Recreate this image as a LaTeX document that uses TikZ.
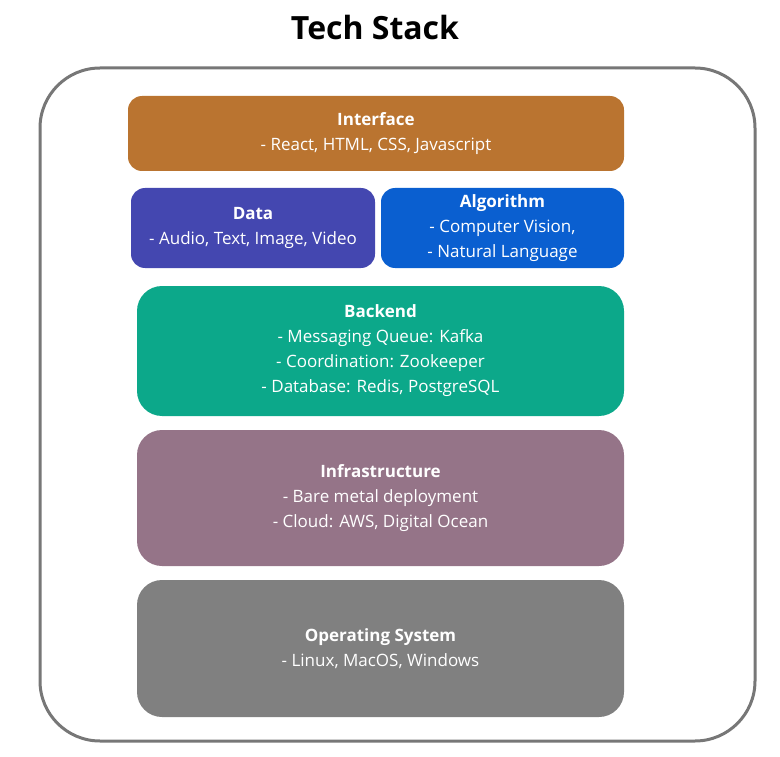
\documentclass[tikz,border=0pt]{standalone}
\usepackage{fontspec}
\setmainfont{Open Sans}
\usetikzlibrary{positioning}
\definecolor{interfacecol}{HTML}{BA7430}
\definecolor{datacol}{HTML}{4447B0}
\definecolor{algocol}{HTML}{0A5FD0}
\definecolor{backendcol}{HTML}{0CA88A}
\definecolor{infracol}{HTML}{957488}
\definecolor{oscol}{HTML}{808080}
\definecolor{framecol}{HTML}{777777}
\tikzset{
  layer/.style={draw=none, rounded corners=#1, text=white, align=center,
    inner sep=0pt, font=\fontsize{17}{25}\selectfont},
  layer/.default=14pt
}
\begin{document}
\begin{tikzpicture}[x=1pt,y=-1pt]
\useasboundingbox (0,0) rectangle (780,757);

\node[font=\bfseries\fontsize{32}{36}\selectfont] (title) at (375,28) {Tech Stack};
\draw[framecol, line width=3pt, rounded corners=60pt] (40,68) rectangle (755,741);

\node[layer, fill=interfacecol, minimum width=496pt, minimum height=75pt] (interface) at (376,133.5)
  {\textbf{Interface}\\- React, HTML, CSS, Javascript};
\node[layer, fill=datacol, minimum width=244pt, minimum height=80pt] (data) at (253,228)
  {\textbf{Data}\\- Audio, Text, Image, Video};
\node[layer, fill=algocol, minimum width=243pt, minimum height=80pt] (algorithm) at (502.5,228)
  {\textbf{Algorithm}\\- Computer Vision,\\- Natural Language};
\node[layer=25pt, fill=backendcol, minimum width=487pt, minimum height=130pt] (backend) at (380.5,351)
  {\textbf{Backend}\\- Messaging Queue: Kafka\\- Coordination: Zookeeper\\- Database: Redis, PostgreSQL};
\node[layer=25pt, fill=infracol, minimum width=487pt, minimum height=136pt] (infra) at (380.5,498)
  {\textbf{Infrastructure}\\- Bare metal deployment\\- Cloud: AWS, Digital Ocean};
\node[layer=25pt, fill=oscol, minimum width=487pt, minimum height=137pt] (os) at (380.5,648.5)
  {\textbf{Operating System}\\- Linux, MacOS, Windows};

\end{tikzpicture}
\end{document}
